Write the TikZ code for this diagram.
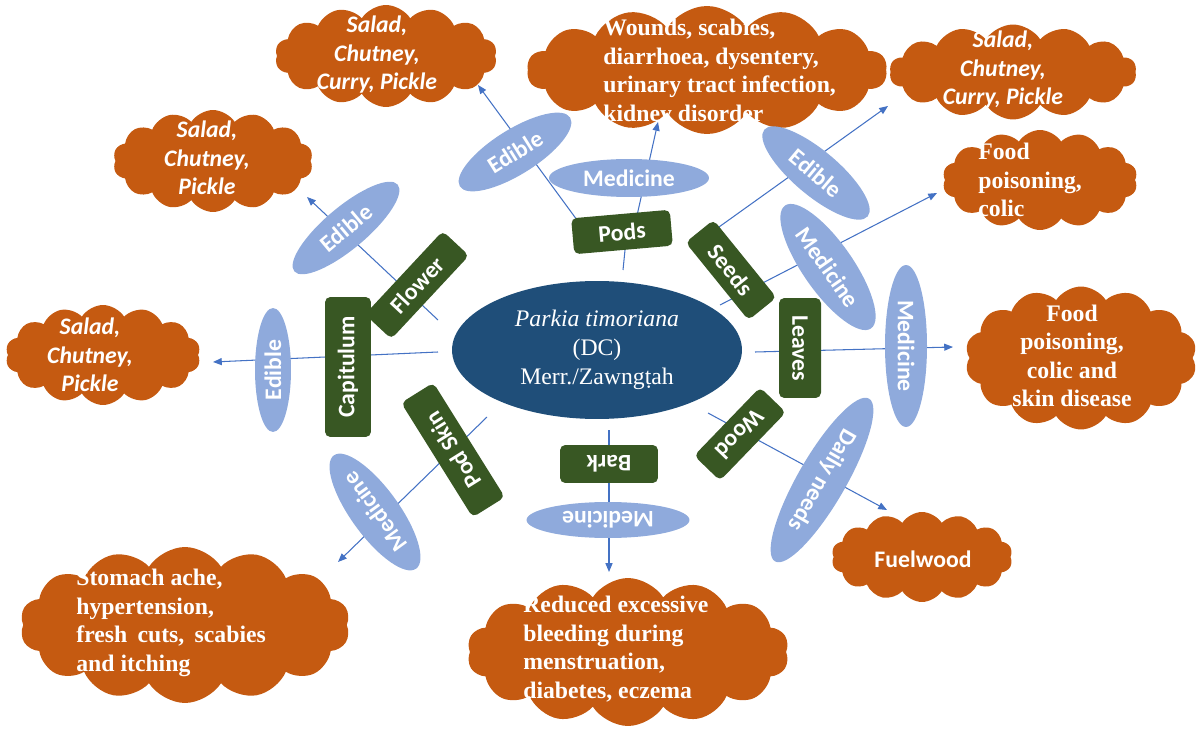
\documentclass[tikz,border=0pt]{standalone}
\usepackage{fontspec}
\setmainfont{Liberation Serif}
\newfontfamily\carlito{Carlito}
\usetikzlibrary{shapes.geometric,shapes.symbols,arrows.meta,backgrounds}
\definecolor{cloudor}{HTML}{C55A11}
\definecolor{boxgreen}{HTML}{385723}
\definecolor{lblue}{HTML}{8FAADC}
\definecolor{cblue}{HTML}{1F4E79}
\definecolor{linkblue}{HTML}{4472C4}
\tikzset{
  sz/.style 2 args={minimum width=#1*0.569pt, minimum height=#2*0.569pt},
  cloudnode/.style={cloud, cloud puffs=14, cloud puff arc=115, cloud ignores aspect, fill=cloudor, draw=none, inner sep=0pt},
  boxnode/.style={rectangle, rounded corners=3pt, fill=boxgreen, text=white, inner sep=0pt,
    font=\carlito\bfseries\fontsize{13.5}{16}\selectfont},
  usenode/.style={ellipse, fill=lblue, text=white, inner sep=0pt,
    font=\carlito\bfseries\fontsize{13.5}{16}\selectfont},
  centrenode/.style={ellipse, fill=cblue, text=white, inner sep=0pt, align=center,
    font=\fontsize{13.5}{16.4}\selectfont},
  seriftext/.style={text=white, inner sep=0pt, font=\bfseries\fontsize{13.5}{16.2}\selectfont},
  italtext/.style={text=white, inner sep=0pt, align=center, font=\carlito\bfseries\itshape\fontsize{13.5}{16.2}\selectfont},
  sanstext/.style={text=white, inner sep=0pt, font=\carlito\bfseries\fontsize{13.5}{16.2}\selectfont},
  link/.style={draw=linkblue, line width=0.6pt},
  arrowlink/.style={link, -{Triangle[length=5pt,width=4pt]}},
}
\begin{document}
\begin{tikzpicture}[x=0.02cm,y=-0.02cm]
\useasboundingbox (0,0) rectangle (1200,729);

% clouds
\node[cloudnode, sz={222}{102}] (cA) at (386,56) {};
\node[cloudnode, sz={200}{102}] (cB) at (213,161) {};
\node[cloudnode, sz={195}{100}] (cC) at (103,355) {};
\node[cloudnode, sz={330}{156}] (cD) at (185,625) {};
\node[cloudnode, sz={322}{148}] (cE) at (628,652) {};
\node[cloudnode, sz={181}{90}] (cF) at (922,557) {};
\node[cloudnode, sz={232}{143}] (cG) at (1081,358) {};
\node[cloudnode, sz={195}{100}] (cH) at (1040,180) {};
\node[cloudnode, sz={247}{95}] (cI) at (1013,72) {};
\node[cloudnode, sz={360}{128}] (cJ) at (707,70) {};

% cloud texts
\node[italtext] (tA) at (377,55) {Salad,\\Chutney,\\Curry, Pickle};
\node[italtext] (tB) at (207,158) {Salad,\\Chutney,\\Pickle};
\node[italtext] (tC) at (90,355) {Salad,\\Chutney,\\Pickle};
\node[seriftext, anchor=west, align=left] (tD) at (76,623) {Stomach ache,\\hypertension,\\fresh\hspace{2.5pt} cuts,\hspace{2.5pt} scabies\\and itching};
\node[seriftext, anchor=west, align=left] (tE) at (523,649) {Reduced excessive\\bleeding during\\menstruation,\\diabetes, eczema};
\node[sanstext] (tF) at (923,559) {Fuelwood};
\node[seriftext, align=center] (tG) at (1072,356) {Food\\poisoning,\\colic and\\skin disease};
\node[seriftext, anchor=west, align=left] (tH) at (978,180) {Food\\poisoning,\\colic};
\node[italtext] (tI) at (1003,70) {Salad,\\Chutney,\\Curry, Pickle};
\node[seriftext, anchor=west, align=left] (tJ) at (603,73) {Wounds, scabies,\\diarrhoea, dysentery,\\urinary tract infection,\\kidney disorder};

% centre
\node[centrenode, sz={290}{138}] (c) at (597,350) {\textit{Parkia timoriana}\\(DC)\\Merr./Zawngṭah};

% parts
\node[boxnode, sz={99}{36}, rotate=5] (pods) at (622,232) {Pods};
\node[boxnode, sz={100}{36}, rotate=-51] (seeds) at (731,270) {Seeds};
\node[boxnode, sz={100}{42}, rotate=-90] (leaves) at (800,348) {Leaves};
\node[boxnode, sz={95}{36}, rotate=-134] (wood) at (740,434) {Wood};
\node[boxnode, sz={98}{38}, rotate=180] (bark) at (609,464) {Bark};
\node[boxnode, sz={135}{38}, rotate=122] (podskin) at (453,450) {Pod Skin};
\node[boxnode, sz={140}{46}, rotate=90] (capit) at (348,367) {Capitulum};
\node[boxnode, sz={114}{36}, rotate=47] (flower) at (417,285) {Flower};

% uses
\node[usenode, sz={135}{42}, rotate=40] (ed1) at (346,228) {Edible};
\node[usenode, sz={124}{36}, rotate=90] (ed2) at (273,370) {Edible};
\node[usenode, sz={130}{45}, rotate=32] (ed3) at (515,152) {Edible};
\node[usenode, sz={160}{38}] (med1) at (629,178) {Medicine};
\node[usenode, sz={135}{45}, rotate=-40] (ed4) at (816,173) {Edible};
\node[usenode, sz={150}{50}, rotate=-55] (med2) at (828,267) {Medicine};
\node[usenode, sz={162}{42}, rotate=-90] (med3) at (906,346) {Medicine};
\node[usenode, sz={188}{48}, rotate=-120] (daily) at (822,480) {Daily needs};
\node[usenode, sz={163}{36}, rotate=180] (med4) at (608,520) {Medicine};
\node[usenode, sz={140}{48}, rotate=126] (med5) at (375,512) {Medicine};

% connector end points
\coordinate (f0) at (438,320); \coordinate (f1) at (307,197);
\coordinate (k0) at (438,352); \coordinate (k1) at (213,362);
\coordinate (s0) at (487,417); \coordinate (s1) at (338,562);
\coordinate (b0) at (609,430); \coordinate (b1) at (609,572);
\coordinate (w0) at (708,413); \coordinate (w1) at (887,510);
\coordinate (l0) at (755,352); \coordinate (l1) at (953,347);
\coordinate (m0) at (720,305); \coordinate (m1) at (937,193);
\coordinate (e0) at (712,232); \coordinate (e1) at (888,106);
\coordinate (p0) at (623,270); \coordinate (p1) at (626,240);
\coordinate (q0) at (577,220); \coordinate (q1) at (478,85);
\coordinate (r0) at (636,220); \coordinate (r1) at (658,122);

\begin{scope}[on background layer]
\draw[arrowlink] (f0) -- (f1);
\draw[arrowlink] (k0) -- (k1);
\draw[arrowlink] (s0) -- (s1);
\draw[arrowlink] (b0) -- (b1);
\draw[arrowlink] (w0) -- (w1);
\draw[arrowlink] (l0) -- (l1);
\draw[arrowlink] (m0) -- (m1);
\draw[arrowlink] (e0) -- (e1);
\draw[link] (p0) -- (p1);
\draw[arrowlink] (q0) -- (q1);
\draw[arrowlink] (r0) -- (r1);
\end{scope}
\end{tikzpicture}
\end{document}
